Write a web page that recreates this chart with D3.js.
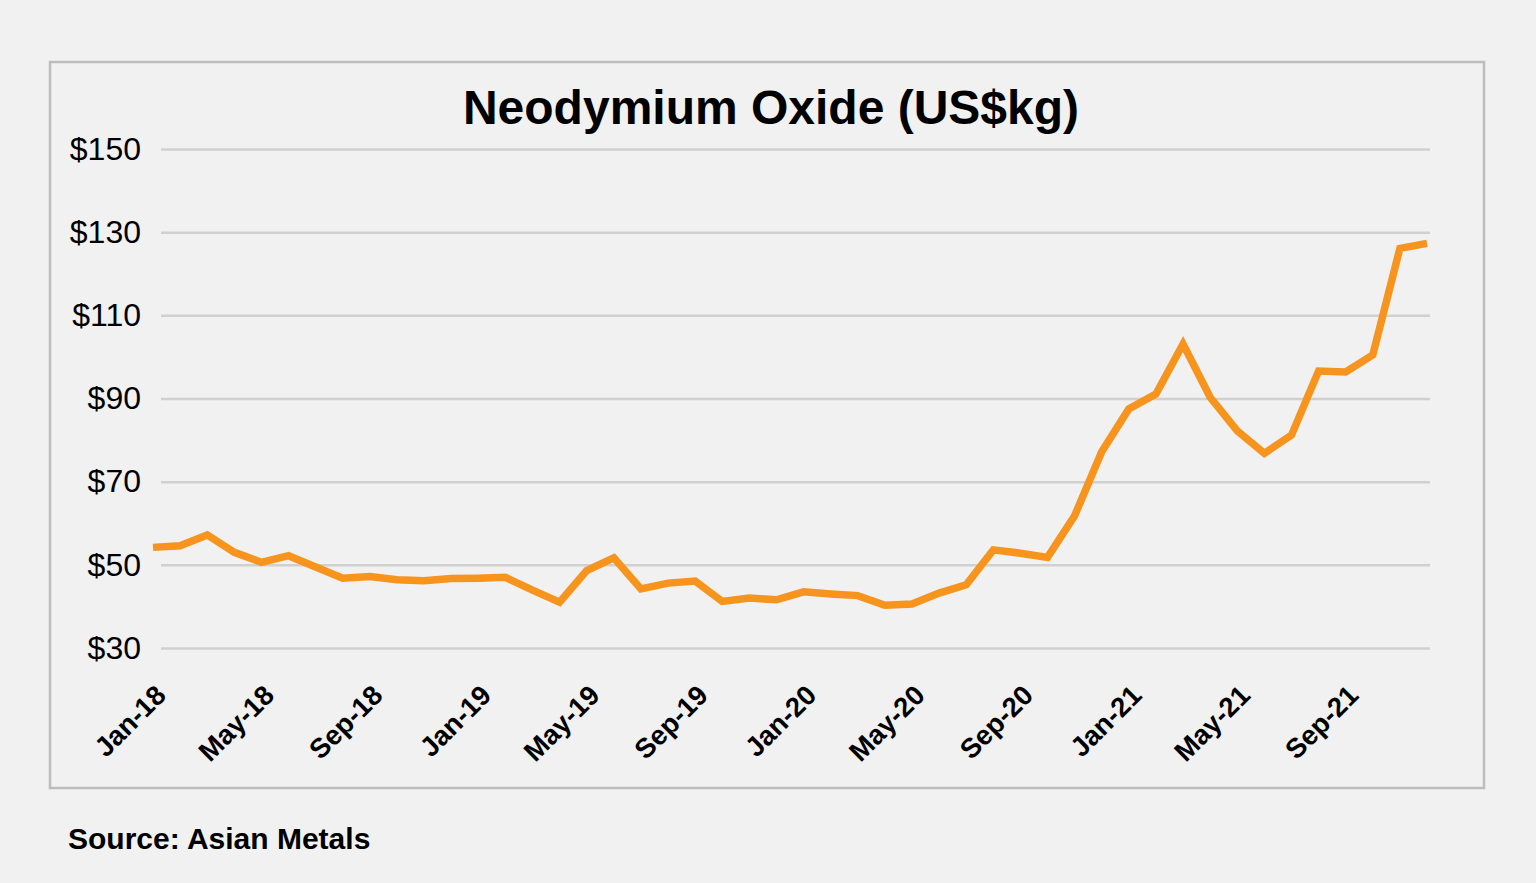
<!DOCTYPE html>
<html>
<head>
  <meta charset="utf-8">
  <style>
    html, body {
      margin: 0;
      padding: 0;
      background: #f1f1f1;
      width: 100%;
      height: 100%;
      overflow: hidden;
      font-family: "Liberation Sans", Arial, sans-serif;
    }

    svg {
      display: block;
      width: 1536px;
      height: 883px;
    }

    .grid line {
      stroke: #d0d0d0;
      stroke-width: 2.5px;
    }

    .price-line {
      fill: none;
      stroke: #f7941d;
      stroke-width: 7.5px;
      stroke-linejoin: miter;
    }
  </style>
</head>
<body>
  <svg></svg>

  <script src="https://d3js.org/d3.v7.min.js"></script>
  <script>
    // monthly, Jan-18 .. Dec-21
    const months = [
      "Jan-18","Feb-18","Mar-18","Apr-18","May-18","Jun-18","Jul-18","Aug-18","Sep-18","Oct-18","Nov-18","Dec-18",
      "Jan-19","Feb-19","Mar-19","Apr-19","May-19","Jun-19","Jul-19","Aug-19","Sep-19","Oct-19","Nov-19","Dec-19",
      "Jan-20","Feb-20","Mar-20","Apr-20","May-20","Jun-20","Jul-20","Aug-20","Sep-20","Oct-20","Nov-20","Dec-20",
      "Jan-21","Feb-21","Mar-21","Apr-21","May-21","Jun-21","Jul-21","Aug-21","Sep-21","Oct-21","Nov-21","Dec-21"
    ];

    const prices = [
      54.2, 54.6, 57.2, 53.0, 50.6, 52.2, 49.5, 46.8, 47.2, 46.4, 46.2, 46.7,
      46.8, 47.0, 43.9, 41.0, 48.6, 51.7, 44.2, 45.6, 46.1, 41.2, 42.0, 41.6,
      43.5, 43.0, 42.6, 40.3, 40.6, 43.2, 45.2, 53.6, 52.8, 51.8, 61.8, 77.2,
      87.5, 91.1, 103.1, 90.3, 82.2, 76.8, 81.2, 96.6, 96.4, 100.5, 126.1, 127.3
    ];

    const yTicks = [30, 50, 70, 90, 110, 130, 150];
    const xLabels = months.filter((m, i) => i % 4 === 0);

    const title = "Neodymium Oxide (US$kg)";
    const source = "Source: Asian Metals";

    const svg = d3.select("svg");

    // outer frame
    svg.append("rect")
      .attr("x", 50).attr("y", 62)
      .attr("width", 1434).attr("height", 726)
      .attr("fill", "none")
      .attr("stroke", "#bdbdbd")
      .attr("stroke-width", 2.5);

    const gridLeft = 161, gridRight = 1430;

    const x = d3.scalePoint()
      .domain(months)
      .range([153, 1427]);

    const y = d3.scaleLinear()
      .domain([30, 150])
      .range([648, 149]);

    // y axis + gridlines
    const yAxis = svg.append("g")
      .attr("class", "grid")
      .attr("transform", `translate(${gridLeft},0)`)
      .call(d3.axisLeft(y)
        .tickValues(yTicks)
        .tickSize(-(gridRight - gridLeft))
        .tickPadding(20)
        .tickFormat(d => "$" + d));
    yAxis.select(".domain").remove();
    yAxis.selectAll("text")
      .attr("fill", "#000")
      .style("font-size", "32px")
      .style("font-family", "'Liberation Sans', Arial, sans-serif");

    // x labels, rotated
    const xAxis = svg.append("g")
      .attr("transform", "translate(0,697)")
      .call(d3.axisBottom(x).tickValues(xLabels).tickSize(0).tickPadding(0));
    xAxis.select(".domain").remove();
    xAxis.selectAll(".tick text")
      .attr("y", 0)
      .attr("dy", 0)
      .attr("text-anchor", "end")
      .attr("transform", "translate(14,0) rotate(-45)")
      .attr("fill", "#000")
      .style("font-size", "27.5px")
      .style("font-weight", "bold")
      .style("font-family", "'Liberation Sans', Arial, sans-serif");

    // line
    const line = d3.line()
      .x((d, i) => x(months[i]))
      .y(d => y(d));

    svg.append("path")
      .datum(prices)
      .attr("class", "price-line")
      .attr("d", line);

    // title
    svg.append("text")
      .attr("x", 771)
      .attr("y", 124)
      .attr("text-anchor", "middle")
      .style("font-size", "48px")
      .style("font-weight", "bold")
      .text(title);

    // source
    svg.append("text")
      .attr("x", 68)
      .attr("y", 849)
      .style("font-size", "30px")
      .style("font-weight", "bold")
      .text(source);
  </script>
</body>
</html>
